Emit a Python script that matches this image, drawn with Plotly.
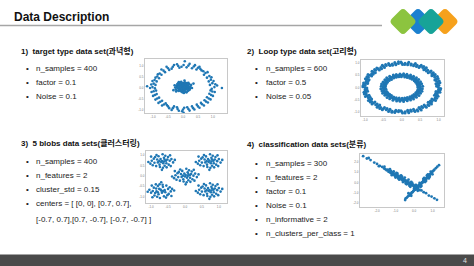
import plotly.graph_objects as go

W, H = 474, 266

# ---------------- data ----------------
# 1) target type (make_circles, factor 0.1, noise 0.1)
p1_outer = [
    (1.05,0.02),(0.96,-0.06),(1.14,0.09),(1.30,-0.02),
    (0.98,0.20),(1.08,0.15),(0.90,0.12),
    (0.93,0.36),(1.02,0.30),(0.86,0.28),
    (0.88,0.52),(0.80,0.45),(0.95,0.47),
    (0.75,0.66),(0.82,0.70),(0.70,0.58),
    (0.62,0.78),(0.58,0.85),(0.68,0.74),
    (0.50,0.90),(0.45,0.82),(0.55,0.95),
    (0.36,0.96),(0.30,0.88),(0.40,1.02),
    (0.18,1.00),(0.12,0.92),(0.22,1.08),
    (0.02,1.03),(-0.05,0.95),(0.06,1.20),
    (-0.16,0.98),(-0.20,1.06),(-0.12,0.90),
    (-0.34,0.95),(-0.38,0.86),(-0.30,1.03),
    (-0.50,0.88),(-0.55,0.95),(-0.46,0.80),
    (-0.65,0.77),(-0.60,0.70),(-0.72,0.82),
    (-0.78,0.64),(-0.84,0.60),(-0.72,0.58),
    (-0.86,0.50),(-0.92,0.45),(-0.80,0.42),
    (-0.95,0.34),(-1.02,0.30),(-0.88,0.28),
    (-0.98,0.18),(-1.06,0.14),(-0.92,0.12),
    (-1.02,0.02),(-0.94,-0.04),(-1.10,-0.02),(-1.20,0.06),
    (-0.98,-0.17),(-1.05,-0.20),(-0.90,-0.14),
    (-0.94,-0.34),(-0.88,-0.30),(-1.00,-0.38),
    (-0.86,-0.50),(-0.92,-0.55),(-0.80,-0.46),
    (-0.76,-0.65),(-0.70,-0.60),(-0.82,-0.70),
    (-0.64,-0.77),(-0.58,-0.72),(-0.70,-0.82),
    (-0.50,-0.86),(-0.46,-0.94),(-0.54,-0.80),
    (-0.34,-0.94),(-0.30,-0.86),(-0.38,-1.02),
    (-0.18,-0.98),(-0.14,-1.06),(-0.20,-0.90),
    (0.00,-1.00),(0.04,-0.92),(-0.03,-1.08),(0.02,-1.15),
    (0.18,-0.98),(0.14,-0.90),(0.22,-1.05),
    (0.34,-0.94),(0.38,-1.00),(0.30,-0.86),
    (0.50,-0.86),(0.46,-0.78),(0.55,-0.92),
    (0.64,-0.76),(0.70,-0.82),(0.60,-0.70),
    (0.77,-0.64),(0.72,-0.58),(0.83,-0.68),
    (0.86,-0.50),(0.92,-0.54),(0.80,-0.44),
    (0.94,-0.34),(1.00,-0.38),(0.88,-0.28),
    (0.98,-0.18),(1.06,-0.20),(0.92,-0.13),
]
p1_inner = [
    (0.02,0.05),(-0.08,0.10),(0.12,-0.04),(-0.15,-0.06),(0.05,-0.14),(0.18,0.08),(-0.03,-0.02),(0.09,0.16),(-0.12,0.18),(0.22,-0.10),
    (-0.20,0.02),(0.00,0.20),(0.14,0.02),(-0.06,-0.18),(0.07,0.07),(-0.10,-0.10),(0.25,0.04),(-0.24,-0.08),(0.03,-0.25),(-0.02,0.12),
    (0.16,-0.16),(-0.17,0.12),(0.10,-0.08),(-0.05,0.03),(0.20,0.16),(-0.14,-0.16),(0.06,0.24),(-0.09,0.22),(0.12,0.11),(-0.22,0.08),
    (0.01,-0.09),(0.17,-0.02),(-0.11,0.04),(0.04,0.15),(-0.18,-0.02),(0.08,-0.20),(-0.04,-0.12),(0.13,0.20),(-0.07,0.16),(0.23,-0.06),
    (-0.01,0.02),(0.11,0.04),(-0.13,0.08),(0.05,-0.03),(-0.08,-0.05),(0.15,0.13),(-0.16,0.20),(0.19,-0.12),(-0.21,-0.14),(0.00,-0.17),
    (0.09,0.00),(-0.03,0.08),(0.06,-0.10),(-0.12,-0.01),(0.14,-0.09),(-0.06,0.26),(0.21,0.02),(-0.26,0.00),(0.03,0.10),(-0.10,0.14),
    (0.27,0.12),(-0.19,0.16),(0.12,-0.22),(-0.02,-0.22),(0.07,0.19),(-0.14,0.25),(0.18,0.22),(-0.23,-0.18),(0.30,-0.02),(-0.28,0.10),
    (0.04,0.03),(-0.05,-0.07),(0.10,0.09),(-0.09,0.06),(0.16,0.06),(-0.15,0.00),(0.02,-0.05),(-0.01,0.17),(0.08,0.13),(-0.07,-0.14),
    (0.35,0.18),(-0.32,-0.12),(0.05,0.32),
]

# 2) loop type (make_circles, factor 0.5, noise 0.05)
p2_outer = [
    (1.00,0.00),(0.95,0.05),(1.06,-0.04),(0.98,0.17),(0.93,0.15),(1.04,0.20),
    (0.94,0.34),(0.90,0.31),(0.99,0.37),(0.87,0.50),(0.82,0.48),(0.91,0.53),
    (0.77,0.64),(0.72,0.61),(0.80,0.68),(0.64,0.77),(0.60,0.73),(0.67,0.81),
    (0.50,0.87),(0.47,0.82),(0.53,0.91),(0.34,0.94),(0.32,0.89),(0.37,0.99),
    (0.17,0.98),(0.16,0.93),(0.19,1.04),(0.00,1.00),(0.02,0.95),(-0.02,1.05),
    (-0.17,0.98),(-0.16,0.93),(-0.19,1.03),(-0.34,0.94),(-0.32,0.90),(-0.36,0.99),
    (-0.50,0.87),(-0.47,0.82),(-0.53,0.91),(-0.64,0.77),(-0.61,0.72),(-0.68,0.80),
    (-0.77,0.64),(-0.72,0.61),(-0.81,0.67),(-0.87,0.50),(-0.82,0.47),(-0.92,0.53),
    (-0.94,0.34),(-0.89,0.32),(-0.99,0.36),(-0.98,0.17),(-0.93,0.16),(-1.04,0.19),
    (-1.00,0.00),(-0.95,-0.02),(-1.06,0.03),(-0.98,-0.17),(-0.93,-0.15),(-1.03,-0.19),
    (-0.94,-0.34),(-0.89,-0.32),(-0.99,-0.37),(-0.87,-0.50),(-0.82,-0.47),(-0.91,-0.53),
    (-0.77,-0.64),(-0.73,-0.60),(-0.81,-0.68),(-0.64,-0.77),(-0.60,-0.72),(-0.67,-0.81),
    (-0.50,-0.87),(-0.47,-0.82),(-0.53,-0.91),(-0.34,-0.94),(-0.32,-0.89),(-0.36,-0.99),
    (-0.17,-0.98),(-0.16,-0.93),(-0.19,-1.03),(0.00,-1.00),(-0.02,-0.95),(0.02,-1.05),
    (0.17,-0.98),(0.16,-0.93),(0.19,-1.04),(0.34,-0.94),(0.32,-0.89),(0.36,-0.99),
    (0.50,-0.87),(0.47,-0.82),(0.53,-0.92),(0.64,-0.77),(0.61,-0.72),(0.67,-0.81),
    (0.77,-0.64),(0.72,-0.61),(0.81,-0.68),(0.87,-0.50),(0.82,-0.47),(0.92,-0.53),
    (0.94,-0.34),(0.89,-0.32),(0.99,-0.36),(0.98,-0.17),(0.93,-0.16),(1.04,-0.19),
    (1.01,0.09),(0.96,0.08),(0.95,0.26),(1.02,0.27),(0.90,0.42),(0.97,0.45),
    (0.82,0.57),(0.86,0.61),(0.71,0.71),(0.67,0.68),(0.57,0.82),(0.60,0.86),
    (0.42,0.91),(0.40,0.86),(0.26,0.97),(0.25,0.92),(0.09,1.00),(0.08,0.95),
    (-0.09,0.99),(-0.09,1.06),(-0.26,0.97),(-0.25,0.91),(-0.42,0.90),(-0.44,0.95),
    (-0.57,0.82),(-0.55,0.77),(-0.71,0.71),(-0.74,0.74),(-0.82,0.57),(-0.78,0.54),
    (-0.91,0.42),(-0.95,0.44),(-0.97,0.26),(-0.92,0.25),(-1.00,0.09),(-1.05,0.09),
    (-1.00,-0.09),(-0.95,-0.08),(-0.97,-0.26),(-1.02,-0.27),(-0.91,-0.42),(-0.86,-0.40),
    (-0.82,-0.57),(-0.86,-0.60),(-0.71,-0.71),(-0.67,-0.68),(-0.57,-0.82),(-0.60,-0.86),
    (-0.42,-0.91),(-0.40,-0.86),(-0.26,-0.97),(-0.27,-1.02),(-0.09,-1.00),(-0.08,-0.94),
    (0.09,-1.00),(0.09,-1.05),(0.26,-0.97),(0.24,-0.92),(0.42,-0.91),(0.44,-0.96),
    (0.57,-0.82),(0.54,-0.78),(0.71,-0.71),(0.74,-0.74),(0.82,-0.57),(0.78,-0.55),
    (0.91,-0.42),(0.95,-0.44),(0.97,-0.26),(0.92,-0.25),(1.00,-0.09),(1.05,-0.09),
]
p2_inner = [
    (0.50,0.00),(0.44,0.01),(0.50,0.04),(0.57,0.05),(0.49,0.09),(0.43,0.08),(0.48,0.13),(0.54,0.15),
    (0.47,0.17),(0.41,0.15),(0.45,0.21),(0.51,0.24),(0.43,0.25),(0.38,0.22),(0.41,0.29),(0.46,0.33),
    (0.38,0.32),(0.34,0.28),(0.35,0.35),(0.40,0.40),(0.32,0.38),(0.28,0.34),(0.29,0.41),(0.32,0.46),
    (0.25,0.43),(0.22,0.38),(0.21,0.45),(0.24,0.51),(0.17,0.47),(0.15,0.41),(0.13,0.48),(0.14,0.54),
    (0.09,0.49),(0.08,0.43),(0.04,0.50),(0.05,0.57),
    (0.00,0.50),(-0.01,0.44),(-0.04,0.51),(-0.05,0.56),(-0.09,0.49),(-0.08,0.44),(-0.13,0.48),(-0.15,0.53),
    (-0.17,0.47),(-0.15,0.42),(-0.21,0.45),(-0.23,0.51),(-0.25,0.43),(-0.22,0.39),(-0.29,0.41),(-0.33,0.46),
    (-0.32,0.38),(-0.28,0.33),(-0.35,0.35),(-0.41,0.40),(-0.38,0.32),(-0.34,0.29),(-0.41,0.29),(-0.46,0.32),
    (-0.43,0.25),(-0.39,0.22),(-0.45,0.21),(-0.51,0.23),(-0.47,0.17),(-0.42,0.15),(-0.48,0.13),(-0.55,0.14),
    (-0.49,0.09),(-0.44,0.07),(-0.50,0.04),(-0.56,0.05),
    (-0.50,0.00),(-0.45,-0.01),(-0.50,-0.04),(-0.57,-0.05),(-0.49,-0.09),(-0.43,-0.07),(-0.48,-0.13),(-0.54,-0.14),
    (-0.47,-0.17),(-0.41,-0.16),(-0.45,-0.21),(-0.52,-0.24),(-0.43,-0.25),(-0.38,-0.21),(-0.41,-0.29),(-0.46,-0.32),
    (-0.38,-0.32),(-0.33,-0.28),(-0.35,-0.35),(-0.40,-0.41),(-0.32,-0.38),(-0.28,-0.33),(-0.29,-0.41),(-0.33,-0.46),
    (-0.25,-0.43),(-0.22,-0.39),(-0.21,-0.45),(-0.24,-0.52),(-0.17,-0.47),(-0.15,-0.42),(-0.13,-0.48),(-0.14,-0.55),
    (-0.09,-0.49),(-0.07,-0.43),(-0.04,-0.50),(-0.05,-0.56),
    (0.00,-0.50),(0.01,-0.44),(0.04,-0.51),(0.05,-0.57),(0.09,-0.49),(0.08,-0.43),(0.13,-0.48),(0.15,-0.54),
    (0.17,-0.47),(0.15,-0.41),(0.21,-0.45),(0.24,-0.51),(0.25,-0.43),(0.22,-0.38),(0.29,-0.41),(0.32,-0.47),
    (0.32,-0.38),(0.28,-0.34),(0.35,-0.35),(0.40,-0.40),(0.38,-0.32),(0.33,-0.29),(0.41,-0.29),(0.47,-0.33),
    (0.43,-0.25),(0.38,-0.22),(0.45,-0.21),(0.51,-0.24),(0.47,-0.17),(0.42,-0.15),(0.48,-0.13),(0.55,-0.15),
    (0.49,-0.09),(0.44,-0.08),(0.50,-0.04),(0.56,-0.05),
]

# 3) five blobs (cluster_std 0.15)
p3_blob_center = [
    (0.02,0.05),(-0.12,0.10),(0.15,-0.08),(-0.20,-0.05),(0.08,0.18),(0.25,0.02),(-0.05,-0.15),(0.10,-0.20),(-0.18,0.20),(0.30,0.12),
    (-0.28,0.04),(0.00,-0.02),(0.18,0.10),(-0.08,0.25),(0.05,-0.30),(-0.15,-0.22),(0.22,-0.15),(0.12,0.28),(-0.25,-0.18),(0.35,-0.05),
    (-0.02,0.12),(0.06,-0.08),(-0.10,-0.04),(0.14,0.04),(-0.06,0.02),(0.20,0.22),(-0.22,0.14),(0.28,-0.22),(-0.32,-0.10),(0.04,0.35),
    (-0.14,0.32),(0.10,0.10),(-0.04,-0.26),(0.16,-0.28),(0.26,0.30),(-0.30,0.24),(0.40,0.08),(-0.38,-0.02),(0.02,-0.40),(0.08,0.00),
]
p3_blob_tr = [
    (0.72,0.75),(0.58,0.80),(0.85,0.62),(0.50,0.65),(0.78,0.88),(0.95,0.72),(0.65,0.55),(0.80,0.50),(0.52,0.90),(1.00,0.82),
    (0.42,0.74),(0.70,0.68),(0.88,0.80),(0.62,0.95),(0.75,0.40),(0.55,0.48),(0.92,0.55),(0.82,0.98),(0.45,0.52),(1.05,0.65),
    (0.68,0.82),(0.76,0.62),(0.60,0.66),(0.84,0.74),(0.64,0.72),(0.90,0.92),(0.48,0.84),(0.98,0.48),(0.38,0.60),(0.74,1.05),
    (0.56,1.02),(0.80,0.80),(0.66,0.44),(0.86,0.42),(0.96,1.00),(0.40,0.94),(1.10,0.78),(0.32,0.68),(0.72,0.30),(0.78,0.70),
]
p3_blob_tl = [
    (-0.68,0.72),(-0.82,0.80),(-0.55,0.62),(-0.90,0.64),(-0.62,0.88),(-0.45,0.74),(-0.75,0.55),(-0.60,0.50),(-0.88,0.92),(-0.40,0.82),
    (-0.98,0.74),(-0.70,0.68),(-0.52,0.80),(-0.78,0.96),(-0.65,0.40),(-0.85,0.48),(-0.48,0.55),(-0.58,0.98),(-0.95,0.52),(-0.35,0.66),
    (-0.72,0.82),(-0.64,0.62),(-0.80,0.66),(-0.56,0.74),(-0.76,0.72),(-0.50,0.92),(-0.92,0.84),(-0.42,0.48),(-1.02,0.60),(-0.66,1.05),
    (-0.84,1.02),(-0.60,0.80),(-0.74,0.44),(-0.54,0.42),(-0.44,1.00),(-1.00,0.94),(-0.30,0.78),(-1.08,0.68),(-0.68,0.30),(-0.62,0.70),
]
p3_blob_br = [
    (0.72,-0.68),(0.58,-0.60),(0.85,-0.78),(0.50,-0.75),(0.78,-0.52),(0.95,-0.68),(0.65,-0.85),(0.80,-0.90),(0.52,-0.50),(1.00,-0.58),
    (0.42,-0.66),(0.70,-0.72),(0.88,-0.60),(0.62,-0.45),(0.75,-1.00),(0.55,-0.92),(0.92,-0.85),(0.82,-0.42),(0.45,-0.88),(1.05,-0.75),
    (0.68,-0.58),(0.76,-0.78),(0.60,-0.74),(0.84,-0.66),(0.64,-0.68),(0.90,-0.48),(0.48,-0.56),(0.98,-0.92),(0.38,-0.80),(0.74,-0.35),
    (0.56,-0.38),(0.80,-0.60),(0.66,-0.96),(0.86,-0.98),(0.96,-0.40),(0.40,-0.46),(1.10,-0.62),(0.32,-0.72),(0.72,-1.10),(0.78,-0.70),
]
p3_blob_bl = [
    (-0.72,-0.65),(-0.58,-0.78),(-0.85,-0.60),(-0.50,-0.62),(-0.78,-0.88),(-0.95,-0.72),(-0.65,-0.52),(-0.80,-0.48),(-0.52,-0.92),(-1.00,-0.80),
    (-0.42,-0.74),(-0.70,-0.70),(-0.88,-0.82),(-0.62,-0.98),(-0.75,-0.40),(-0.55,-0.46),(-0.92,-0.56),(-0.82,-1.00),(-0.45,-0.54),(-1.05,-0.66),
    (-0.68,-0.80),(-0.76,-0.62),(-0.60,-0.68),(-0.84,-0.74),(-0.64,-0.72),(-0.90,-0.94),(-0.48,-0.86),(-0.98,-0.46),(-0.38,-0.62),(-0.74,-1.06),
    (-0.56,-1.04),(-0.80,-0.78),(-0.66,-0.42),(-0.86,-0.40),(-0.96,-1.02),(-0.40,-0.96),(-1.10,-0.76),(-0.32,-0.70),(-0.70,-0.30),(-0.66,-0.74),
]

# 4) classification (two crossing lines)
p4_line_down = [
    (-2.75,2.58),(-2.55,2.35),(-2.35,2.20),(-2.15,1.95),(-2.00,1.82),(-1.85,1.62),(-1.72,1.52),(-1.62,1.38),(-1.55,1.30),(-1.48,1.20),
    (-1.42,1.25),(-1.38,1.05),(-1.33,1.12),(-1.28,0.95),(-1.25,1.10),(-1.22,0.88),(-1.18,1.00),(-1.15,0.80),(-1.12,0.92),(-1.08,0.75),
    (-1.05,0.85),(-1.02,0.62),(-0.98,0.78),(-0.95,0.60),(-0.92,0.70),(-0.88,0.52),(-0.85,0.66),(-0.82,0.45),(-0.78,0.58),(-0.75,0.38),
    (-0.72,0.50),(-0.68,0.30),(-0.65,0.42),(-0.62,0.22),(-0.58,0.35),(-0.55,0.15),(-0.52,0.28),(-0.48,0.10),(-0.45,0.20),(-0.42,0.00),
    (-0.38,0.12),(-0.35,-0.06),(-0.30,0.02),(-0.26,-0.15),(-0.22,-0.05),(-0.18,-0.22),(-0.14,-0.12),(-0.10,-0.30),(-0.05,-0.20),(0.00,-0.42),
    (0.05,-0.32),(0.10,-0.55),(0.15,-0.45),(0.22,-0.62),(0.30,-0.75),(0.40,-0.78),(0.52,-0.95),(0.65,-1.05),(0.80,-1.28),(0.95,-1.38),
    (1.10,-1.55),(1.24,-1.70),
    (-1.30,1.30),(-1.20,0.72),(-1.10,1.08),(-1.00,0.48),(-0.90,0.88),(-0.80,0.28),(-0.70,0.70),(-0.60,0.04),(-0.50,0.48),(-0.40,-0.18),
    (-0.30,0.28),(-0.20,-0.42),(-0.10,-0.04),(0.00,-0.62),(0.10,-0.24),(0.20,-0.82),(-0.95,0.95),(-0.85,0.38),(-0.65,0.58),(-0.45,-0.10),
    (-0.25,-0.32),(-0.15,0.06),(0.05,-0.72),(-1.60,1.55),(-1.90,1.60),(-2.45,2.40),
]
p4_line_up = [
    (-0.48,-1.72),(-0.45,-1.55),(-0.40,-1.50),(-0.35,-1.40),(-0.30,-1.30),(-0.25,-1.28),(-0.20,-1.12),(-0.16,-1.10),(-0.12,-0.98),(-0.08,-0.95),
    (-0.04,-0.85),(0.00,-0.75),(0.03,-0.72),(0.06,-0.62),(0.08,-0.70),(0.10,-0.55),(0.12,-0.62),(0.15,-0.48),(0.18,-0.50),(0.20,-0.38),
    (0.23,-0.42),(0.26,-0.28),(0.28,-0.32),(0.31,-0.18),(0.34,-0.22),(0.37,-0.08),(0.40,-0.12),(0.43,0.02),(0.46,-0.02),(0.49,0.12),
    (0.52,0.08),(0.55,0.22),(0.58,0.20),(0.61,0.34),(0.64,0.30),(0.67,0.45),(0.70,0.42),(0.73,0.56),(0.76,0.52),(0.79,0.68),
    (0.82,0.64),(0.85,0.80),(0.88,0.78),(0.92,0.90),(0.96,0.98),(1.00,1.08),(1.05,1.15),(1.10,1.25),(1.18,1.40),(1.26,1.55),(1.35,1.70),
    (0.05,-0.45),(0.20,-0.65),(0.30,-0.05),(0.40,-0.35),(0.50,0.35),(0.60,0.05),(0.70,0.70),(0.80,0.40),(0.90,1.05),(1.00,0.80),
    (0.15,-0.30),(0.35,-0.45),(0.55,0.45),(0.65,0.15),(0.75,0.80),(0.85,0.55),(-0.30,-1.05),(-0.15,-1.30),
]

p1_ticks = [-1.0, -0.5, 0.0, 0.5, 1.0]
p2_ticks = [-1.0, -0.5, 0.0, 0.5, 1.0]
p3_ticks = [-1.0, -0.5, 0.0, 0.5, 1.0]
p4_xticks = [-2, -1, 0, 1]
p4_yticks = [-2, -1, 0, 1, 2]

title_text = "Data Description"
sections = [
    ("1)  target type data set(과녁형)", ["n_samples = 400", "factor = 0.1", "Noise = 0.1"]),
    ("2)  Loop type data set(고리형)", ["n_samples = 600", "factor = 0.5", "Noise = 0.05"]),
    ("3)  5 blobs data sets(클러스터링)", ["n_samples = 400", "n_features = 2", "cluster_std = 0.15",
                                       "centers = [ [0, 0], [0.7, 0.7],"]),
    ("4)  classification data sets(분류)", ["n_samples = 300", "n_features = 2", "factor = 0.1", "Noise = 0.1",
                                         "n_informative = 2", "n_clusters_per_class = 1"]),
]
blob_centers_cont = "[-0.7, 0.7],[0.7, -0.7], [-0.7, -0.7] ]"
page_number = "4"

# ---------------- layout helpers ----------------
def px(x):
    return x / W

def py(y):
    return 1 - y / H

FONT = "Liberation Sans, Arial, Noto Sans CJK KR, sans-serif"
BLUE = "#1f77b4"

fig = go.Figure()

def add_pts(pts, ax, size=2.6):
    xs, ys = zip(*pts)
    fig.add_trace(go.Scatter(x=list(xs), y=list(ys), mode="markers", xaxis="x" + ax, yaxis="y" + ax,
                             marker=dict(size=size, color=BLUE, line=dict(width=0)),
                             showlegend=False, hoverinfo="skip"))

add_pts(p1_outer, "")
add_pts(p1_inner, "")
add_pts(p2_outer, "2", 3)
add_pts(p2_inner, "2", 3)
for b in (p3_blob_center, p3_blob_tr, p3_blob_tl, p3_blob_br, p3_blob_bl):
    add_pts(b, "3")
add_pts(p4_line_down, "4", 2.8)
add_pts(p4_line_up, "4", 2.8)

# axes: (name, x-pixel domain, y-pixel domain, xrange, yrange, xticks, yticks)
axes_spec = [
    ("", (145, 227), (59, 113), [-1.27, 1.47], [-1.16, 1.30], p1_ticks, p1_ticks),
    ("2", (361, 444), (60, 116), [-1.11, 1.15], [-1.17, 1.13], p2_ticks, p2_ticks),
    ("3", (146, 227), (151, 203), [-1.15, 1.24], [-1.30, 1.21], p3_ticks, p3_ticks),
    ("4", (360, 444), (154, 207), [-2.92, 1.62], [-2.40, 2.79], p4_xticks, p4_yticks),
]
layout_axes = {}
for name, (x0, x1), (y0, y1), xr, yr, xt, yt in axes_spec:
    n = name if name else ""
    common = dict(showgrid=False, zeroline=False, showline=True, mirror=True,
                  linecolor="#c8c8c8", linewidth=1, ticks="",
                  tickfont=dict(size=3, color="#777777", family=FONT), fixedrange=True)
    layout_axes["xaxis" + n] = dict(domain=[px(x0), px(x1)], range=xr, anchor="y" + n,
                                    tickvals=xt, ticktext=[f"{v:.1f}" for v in xt], **common)
    layout_axes["yaxis" + n] = dict(domain=[py(y1), py(y0)], range=yr, anchor="x" + n,
                                    tickvals=yt, ticktext=[f"{v:.1f}" for v in yt], **common)

annotations = []

def text(x, y, s, size=8, color="#222222", bold=False):
    annotations.append(dict(x=px(x), y=py(y), xref="paper", yref="paper", xanchor="left", yanchor="middle",
                            text=f"<b>{s}</b>" if bold else s, showarrow=False,
                            font=dict(family=FONT, size=size, color=color)))

text(12, 17, title_text, size=12, color="#111111", bold=True)

# section text positions (heading x,y ; bullet x ; text x ; bullet ys)
sec_pos = [
    (19, 51, 24, 34, [68, 82, 96]),
    (245, 51, 253, 264, [68, 82, 96]),
    (19, 143, 24, 34, [161, 175, 189, 203]),
    (245, 144, 253, 264, [163, 177, 191, 205, 219, 233]),
]
for (head, items), (hx, hy, bx, tx, ys) in zip(sections, sec_pos):
    text(hx, hy, head, size=8, color="#111111", bold=True)
    for s, yy in zip(items, ys):
        text(bx, yy, "•", size=8)
        text(tx, yy, s, size=8)
text(34, 219, blob_centers_cont, size=8)

# page number
annotations.append(dict(x=px(465), y=py(260.5), xref="paper", yref="paper", xanchor="center", yanchor="middle",
                        text=page_number, showarrow=False, font=dict(family=FONT, size=7, color="#e0e0e0")))

shapes = []
# header rule
shapes.append(dict(type="line", xref="paper", yref="paper", x0=0, x1=px(382), y0=py(25.5), y1=py(25.5),
                   line=dict(color="#a6a6a6", width=1.5)))
# footer bar
shapes.append(dict(type="rect", xref="paper", yref="paper", x0=0, x1=1, y0=0, y1=py(254.5),
                   fillcolor="#4a4a4a", line=dict(width=0), layer="below"))

def diamond(cx, cy, h, r, color):
    def P(x, y):
        return f"{px(x):.5f},{py(y):.5f}"
    path = (f"M {P(cx - r, cy - h + r)} Q {P(cx, cy - h)} {P(cx + r, cy - h + r)} "
            f"L {P(cx + h - r, cy - r)} Q {P(cx + h, cy)} {P(cx + h - r, cy + r)} "
            f"L {P(cx + r, cy + h - r)} Q {P(cx, cy + h)} {P(cx - r, cy + h - r)} "
            f"L {P(cx - h + r, cy + r)} Q {P(cx - h, cy)} {P(cx - h + r, cy - r)} Z")
    shapes.append(dict(type="path", xref="paper", yref="paper", path=path,
                       fillcolor=color, line=dict(width=0)))

diamond(418, 21.5, 14, 3, "#1b80cf")
diamond(445, 21.5, 14, 3, "#f6a11c")
diamond(431, 21.5, 14, 3, "#17a398")
diamond(403, 21.5, 14, 3, "#8cc43f")

fig.update_layout(width=W, height=H, margin=dict(l=0, r=0, t=0, b=0),
                  paper_bgcolor="white", plot_bgcolor="white",
                  annotations=annotations, shapes=shapes, **layout_axes)

fig.write_html("out.html")
